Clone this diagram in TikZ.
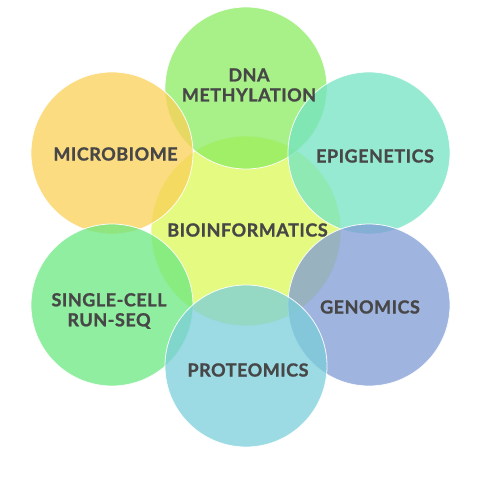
\documentclass[tikz,border=0pt]{standalone}
\usepackage{fontspec}
\setmainfont{Lato}
\newfontfamily\lblfont{Lato}[LetterSpace=3.0, BoldFeatures={FakeBold=1.2}]
\definecolor{txt}{HTML}{474747}
\definecolor{cdna}{RGB}{139,235,96}
\definecolor{cepi}{RGB}{115,227,195}
\definecolor{cgen}{RGB}{128,155,214}
\definecolor{cpro}{RGB}{123,206,219}
\definecolor{csc}{RGB}{107,232,128}
\definecolor{cmic}{RGB}{251,208,86}
\definecolor{cbio}{RGB}{219,248,86}
\tikzset{
  bubble/.style={circle, draw=white, line width=0.8pt, fill opacity=0.75, draw opacity=0.9, minimum size=162pt, inner sep=0pt},
  bigbubble/.style={bubble, minimum size=190pt},
  lbl/.style={text=txt, font=\lblfont\bfseries\fontsize{18}{20}\selectfont, align=center, inner sep=0pt}
}
\begin{document}
\begin{tikzpicture}[x=1pt,y=-1pt]
\useasboundingbox (0,0) rectangle (480,480);
\node[bigbubble, fill=cbio] (bio) at (246,231) {};
\node[bubble, fill=cdna] (dna) at (246,88) {};
\node[bubble, fill=cmic] (mic) at (112,153) {};
\node[bubble, fill=cepi] (epi) at (369,153) {};
\node[bubble, fill=csc] (sc) at (112,305) {};
\node[bubble, fill=cgen] (gen) at (369,305) {};
\node[bubble, fill=cpro] (pro) at (246,366) {};
\node[lbl] (tbio) at ([shift={(1.5,-1)}]bio.center) {BIOINFORMATICS};
\node[lbl] (tdna) at ([shift={(3,-3)}]dna.center) {DNA\\METHYLATION};
\node[lbl] (tmic) at ([shift={(3.5,1)}]mic.center) {MICROBIOME};
\node[lbl] (tepi) at ([shift={(6,3)}]epi.center) {EPIGENETICS};
\node[lbl] (tsc) at ([shift={(-3,6)}]sc.center) {SINGLE-CELL\\RUN-SEQ};
\node[lbl] (tgen) at ([shift={(1,2)}]gen.center) {GENOMICS};
\node[lbl] (tpro) at ([shift={(2,4)}]pro.center) {PROTEOMICS};
\end{tikzpicture}
\end{document}
